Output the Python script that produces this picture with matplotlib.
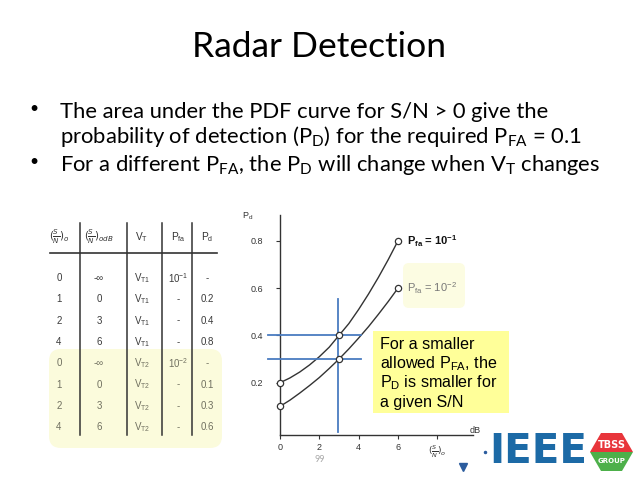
import matplotlib
matplotlib.use('Agg')
import matplotlib.pyplot as plt
from matplotlib.patches import FancyBboxPatch, Polygon, Rectangle

plt.rcParams['font.family'] = ['Lato', 'DejaVu Sans']

# ---------------- data ----------------
title = "Radar Detection"
bullet_lines = [
    ("•", "The area under the PDF curve for S/N > 0 give the"),
    ("", r"probability of detection (P$_\mathregular{D}$) for the required P$_\mathregular{FA}$ = 0.1"),
    ("•", r"For a different P$_\mathregular{FA}$, the P$_\mathregular{D}$ will change when V$_\mathregular{T}$ changes"),
]

tbl_headers = [r'$(\frac{S}{N})_o$', r'$(\frac{S}{N})_{odB}$', r'$\mathregular{V_T}$',
               r'$\mathregular{P_{fa}}$', r'$\mathregular{P_d}$']
tbl_sn = ['0', '1', '2', '4', '0', '1', '2', '4']
tbl_sn_db = ['-∞', '0', '3', '6', '-∞', '0', '3', '6']
tbl_vt = [r'$\mathregular{V_{T1}}$'] * 4 + [r'$\mathregular{V_{T2}}$'] * 4
tbl_pfa = [r'$\mathregular{10^{-1}}$', '-', '-', '-', r'$\mathregular{10^{-2}}$', '-', '-', '-']
tbl_pd = ['-', '0.2', '0.4', '0.8', '-', '0.1', '0.3', '0.6']

# curves (S/N in dB vs Pd)
curve_db = [0, 0.5, 1, 1.5, 2, 2.5, 3, 3.5, 4, 4.5, 5, 5.5, 6]
pd_pfa1 = [0.20, 0.22, 0.245, 0.275, 0.31, 0.35, 0.40, 0.45, 0.51, 0.575, 0.645, 0.72, 0.80]
pd_pfa2 = [0.10, 0.126, 0.156, 0.188, 0.222, 0.26, 0.30, 0.343, 0.389, 0.437, 0.489, 0.543, 0.60]
mark_db = [0, 3, 6]
mark_pfa1 = [0.2, 0.4, 0.8]
mark_pfa2 = [0.1, 0.3, 0.6]
guide_db = 2.95
guide_pd = [0.4, 0.3]
xtick_vals = [0, 2, 4, 6, 8]
xtick_labels = ['0', '2', '4', '6', r'$(\frac{S}{N})_o$']
ytick_vals = [0.2, 0.4, 0.6, 0.8]
ytick_labels = ['0.2', '0.4', '0.6', '0.8']
label_pfa1 = r'$\mathregular{P_{fa}}$ = 10$^{\mathregular{-1}}$'
label_pfa2 = r'$\mathregular{P_{fa}}$ = 10$^{\mathregular{-2}}$'
callout_lines = ["For a smaller", r"allowed P$_\mathregular{FA}$, the",
                 r"P$_\mathregular{D}$ is smaller for", "a given S/N"]

# ---------------- figure ----------------
W, H = 638, 479
fig = plt.figure(figsize=(W / 100, H / 100), dpi=100)
fig.patch.set_facecolor('white')
bg = fig.add_axes([0, 0, 1, 1])
bg.set_xlim(0, W)
bg.set_ylim(H, 0)
bg.axis('off')

# title & bullets
bg.text(319.5, 57, title, fontsize=25.5, ha='center', va='baseline', color='black')
base_y = [118, 143, 171]
for (b, t), y in zip(bullet_lines, base_y):
    if b:
        bg.text(29, y - 5, b, fontsize=11.5, ha='left', va='baseline', color='black')
    bg.text(60, y, t, fontsize=15.8, ha='left', va='baseline', color='black')

# ---------------- table ----------------
tbl_font = ['Liberation Sans', 'DejaVu Sans']
bg.add_patch(FancyBboxPatch((52, 352), 167, 93, boxstyle="round,pad=3,rounding_size=12",
                            fc='#FBFBDC', ec='none', zorder=0))
col_x = [59, 99, 142, 178, 207]
for cx, h in zip(col_x, tbl_headers):
    bg.text(cx, 237, h, fontsize=7.3, ha='center', va='center', color='#333333',
            family=tbl_font, math_fontfamily='dejavusans')
bg.plot([50, 217], [253, 253], color='#333333', lw=1.2)
for vx in [80, 127, 162, 192]:
    bg.plot([vx, vx], [223, 435], color='#333333', lw=1.1)
for i in range(len(tbl_sn)):
    y = 278 + i * 21.3
    c = '#3a3a3a' if i < 4 else '#707060'
    for cx, v in zip(col_x, [tbl_sn[i], tbl_sn_db[i], tbl_vt[i], tbl_pfa[i], tbl_pd[i]]):
        bg.text(cx, y, v, fontsize=7, ha='center', va='center', color=c, family=tbl_font)

# pale box behind second label
bg.add_patch(FancyBboxPatch((406, 266), 56, 39, boxstyle="round,pad=3,rounding_size=6",
                            fc='#FCFCE2', ec='none', zorder=0))
# callout box
bg.add_patch(Rectangle((373, 331), 136, 82, fc='#FFFF99', ec='none', zorder=0))
for k, line in enumerate(callout_lines):
    bg.text(380, 349 + k * 19.2, line, fontsize=11.6, ha='left', va='baseline',
            color='black', family=['Liberation Sans', 'DejaVu Sans'])

# page number, logo
bg.text(320, 459, '99', fontsize=6.5, color='#aaaaaa', ha='center', va='center')
bg.plot([463], [467], marker='v', ms=6, color='#2B5C9E')
bg.plot([485], [452], marker='o', ms=1.5, color='#2B5C9E')
bg.text(538, 452, 'IEEE', fontsize=29, fontweight='heavy', color='#1C6AA6', ha='center',
        va='center', family='DejaVu Sans')
bg.add_patch(Polygon([(590, 452), (601, 433), (622, 433), (633, 452)], closed=True,
                     fc='#E8353B', ec='none'))
bg.add_patch(Polygon([(590, 452), (633, 452), (622, 471), (601, 471)], closed=True,
                     fc='#4DB04A', ec='none'))
bg.text(611.5, 445, 'TBSS', fontsize=7, fontweight='bold', color='white', ha='center',
        va='center', family='DejaVu Sans')
bg.text(611.5, 461, 'GROUP', fontsize=5, fontweight='bold', color='white', ha='center',
        va='center', family='DejaVu Sans')

# ---------------- chart ----------------
ax = fig.add_axes([280 / W, 1 - 435 / H, (473 - 280) / W, (435 - 215) / H])
ax.set_facecolor('none')
ax.set_xlim(0, 193 / 19.67)
ax.set_ylim(-0.021, 0.909)
for s in ['top', 'right']:
    ax.spines[s].set_visible(False)
for s in ['left', 'bottom']:
    ax.spines[s].set_color('#333333')
    ax.spines[s].set_linewidth(1.0)

dark = '#333333'
ax.plot(curve_db, pd_pfa1, color=dark, lw=1.0)
ax.plot(curve_db, pd_pfa2, color=dark, lw=1.0)
ax.plot(mark_db, mark_pfa1, ls='none', marker='o', ms=4.5, mfc='white', mec=dark, mew=0.9,
        clip_on=False, zorder=5)
ax.plot(mark_db, mark_pfa2, ls='none', marker='o', ms=4.5, mfc='white', mec=dark, mew=0.9,
        clip_on=False, zorder=5)

blue = '#4A7CC0'
ax.plot([guide_db, guide_db], [-0.01, 0.554], color=blue, lw=1.3, clip_on=False, zorder=3)
for gy in guide_pd:
    ax.plot([-0.62, 4.1], [gy, gy], color=blue, lw=1.3, clip_on=False, zorder=3)

ax.set_xticks(xtick_vals)
ax.set_xticklabels(xtick_labels)
ax.set_yticks(ytick_vals)
ax.set_yticklabels(ytick_labels)
ax.tick_params(axis='both', labelsize=6.5, length=3, width=0.8, colors=dark)
ax.tick_params(axis='x', pad=3)
ax.tick_params(axis='y', pad=9)
for lab in ax.get_xticklabels() + ax.get_yticklabels():
    lab.set_family(['Liberation Sans', 'DejaVu Sans'])

ax.annotate(label_pfa1, xy=(mark_db[2], mark_pfa1[2]), xytext=(6.5, 0), textcoords='offset points',
            ha='left', va='center', fontsize=8, color='#111111', fontweight='bold',
            family=['Liberation Sans', 'DejaVu Sans'], annotation_clip=False)
ax.annotate(label_pfa2, xy=(mark_db[2], mark_pfa2[2]), xytext=(6.5, 0), textcoords='offset points',
            ha='left', va='center', fontsize=8, color='#777777',
            family=['Liberation Sans', 'DejaVu Sans'], annotation_clip=False)
ax.text(-1.65, 0.905, r'$\mathregular{P_d}$', fontsize=6.5, color=dark, ha='center', va='center',
        family=['Liberation Sans', 'DejaVu Sans'], clip_on=False)
ax.text(9.9, 0.0, 'dB', fontsize=6.5, color=dark, ha='center', va='center',
        family=['Liberation Sans', 'DejaVu Sans'], clip_on=False)

fig.savefig('out.png', dpi=100, facecolor='white')
